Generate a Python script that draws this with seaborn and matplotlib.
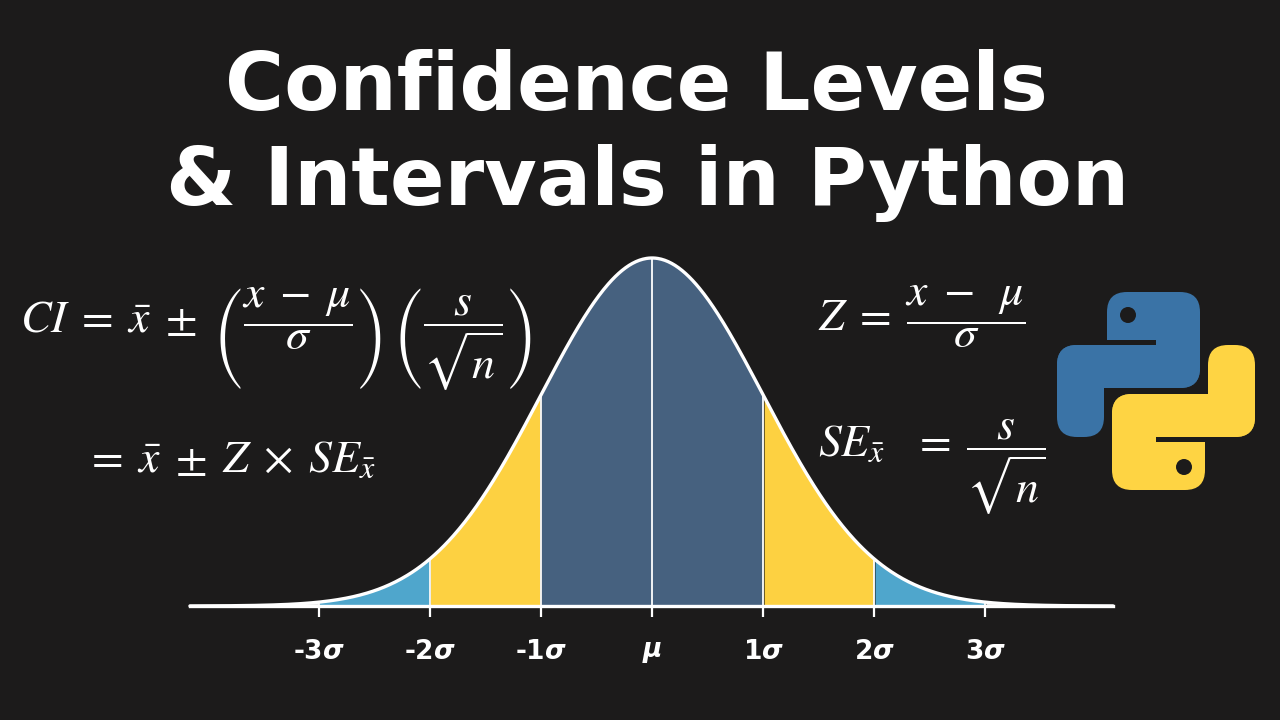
import numpy as np
import pandas as pd
import matplotlib
matplotlib.use("Agg")
import matplotlib.pyplot as plt
import seaborn as sns
from matplotlib.patches import FancyBboxPatch, Circle, Rectangle

# --- data ---
mu = 0.0
sigma = 1.0
sigma_marks = [-3, -2, -1, 0, 1, 2, 3]
tick_labels = [r"-3$\mathbfit{\sigma}$", r"-2$\mathbfit{\sigma}$", r"-1$\mathbfit{\sigma}$",
               r"$\mathbfit{\mu}$", r"1$\mathbfit{\sigma}$", r"2$\mathbfit{\sigma}$", r"3$\mathbfit{\sigma}$"]
band_edges = [-4.16, -3, -2, -1, 1, 2, 3, 4.15]
band_colors = ["#e6e6e6", "#4fa6cc", "#fdd141", "#46617f", "#fdd141", "#4fa6cc", "#e6e6e6"]

bg = "#1c1b1b"
sns.set_style("dark", rc={"axes.facecolor": bg, "figure.facecolor": bg})
plt.rcParams["mathtext.fontset"] = "stix"

x = np.linspace(band_edges[0], band_edges[-1], 800)
pdf = np.exp(-0.5 * ((x - mu) / sigma) ** 2) / (sigma * np.sqrt(2 * np.pi))
df = pd.DataFrame({"x": x, "pdf": pdf})

fig = plt.figure(figsize=(12.8, 7.2), dpi=100)
ax = fig.add_axes([190 / 1280, 114 / 720, 923 / 1280, 348 / 720])

# shaded bands
for lo, hi, col in zip(band_edges[:-1], band_edges[1:], band_colors):
    m = (df["x"] >= lo) & (df["x"] <= hi)
    ax.fill_between(df["x"][m], 0, df["pdf"][m], color=col, lw=0, zorder=1)

# boundary lines
for s in sigma_marks:
    h = np.exp(-0.5 * s ** 2) / np.sqrt(2 * np.pi)
    ax.plot([s, s], [0, h], color="white", lw=1.3, zorder=2)

sns.lineplot(data=df, x="x", y="pdf", color="white", lw=2.4, ax=ax, zorder=3, clip_on=False)

ax.set_xlim(band_edges[0], band_edges[-1])
ax.set_ylim(0, pdf.max())
ax.set_xticks(sigma_marks)
ax.set_xticklabels(tick_labels, color="white", fontsize=19, fontweight="bold",
                   math_fontfamily="dejavusans")
ax.tick_params(axis="x", colors="white", length=8, width=1.6, pad=16, bottom=True)
ax.set_yticks([])
ax.set_xlabel("")
ax.set_ylabel("")
for side in ["top", "left", "right"]:
    ax.spines[side].set_visible(False)
ax.spines["bottom"].set_color("white")
ax.spines["bottom"].set_linewidth(2.4)
ax.grid(False)

# overlay in pixel coordinates for title, formulas and logo
ov = fig.add_axes([0, 0, 1, 1])
ov.set_xlim(0, 1280)
ov.set_ylim(720, 0)
ov.axis("off")
ov.patch.set_alpha(0)

ov.text(636, 110, "Confidence Levels", color="white", fontsize=58, fontweight="bold",
        ha="center", va="baseline")
ov.text(648, 205, "& Intervals in Python", color="white", fontsize=58, fontweight="bold",
        ha="center", va="baseline")

fs = 33
ov.text(20, 333,
        r"$CI\;=\;\bar{x}\;\pm\;\left(\dfrac{x\;-\;\mu}{\sigma}\middle)\,\middle(\dfrac{s}{\sqrt{n}}\right)$",
        color="white", fontsize=fs, ha="left", va="baseline")
ov.text(85, 472, r"$=\;\bar{x}\;\pm\;Z\;\times\;SE_{\bar{x}}$",
        color="white", fontsize=fs, ha="left", va="baseline")
ov.text(818, 331, r"$Z\;=\;\dfrac{x\;-\;\;\mu}{\sigma}$",
        color="white", fontsize=fs, ha="left", va="baseline")
ov.text(818, 457, r"$SE_{\bar{x}}\;\;\;=\;\dfrac{s}{\sqrt{n}}$",
        color="white", fontsize=fs, ha="left", va="baseline")

# python logo (two halves, the yellow one is the blue one turned 180 degrees)
cx, cy = 1156, 391
half_boxes = [(-49, -99, 44, -3), (-99, -46, 44, -3), (-99, -46, -52, 46)]
gap_box = (-56, -51, 0, -46)
eye = (-28, -76)
for sign, col in [(1, "#3a73a6"), (-1, "#fed443")]:
    for x0, y0, x1, y1 in half_boxes:
        a, b = sorted([sign * x0, sign * x1])
        c, d = sorted([sign * y0, sign * y1])
        ov.add_patch(FancyBboxPatch((cx + a, cy + c), b - a, d - c,
                                    boxstyle="round,pad=0,rounding_size=20",
                                    fc=col, ec="none", zorder=5))
    x0, y0, x1, y1 = gap_box
    a, b = sorted([sign * x0, sign * x1])
    c, d = sorted([sign * y0, sign * y1])
    ov.add_patch(Rectangle((cx + a, cy + c), b - a, d - c, fc=bg, ec="none", zorder=6))
    ov.add_patch(Circle((cx + sign * eye[0], cy + sign * eye[1]), 8, fc=bg, ec="none", zorder=6))

fig.savefig("out.png", dpi=100, facecolor=bg)
